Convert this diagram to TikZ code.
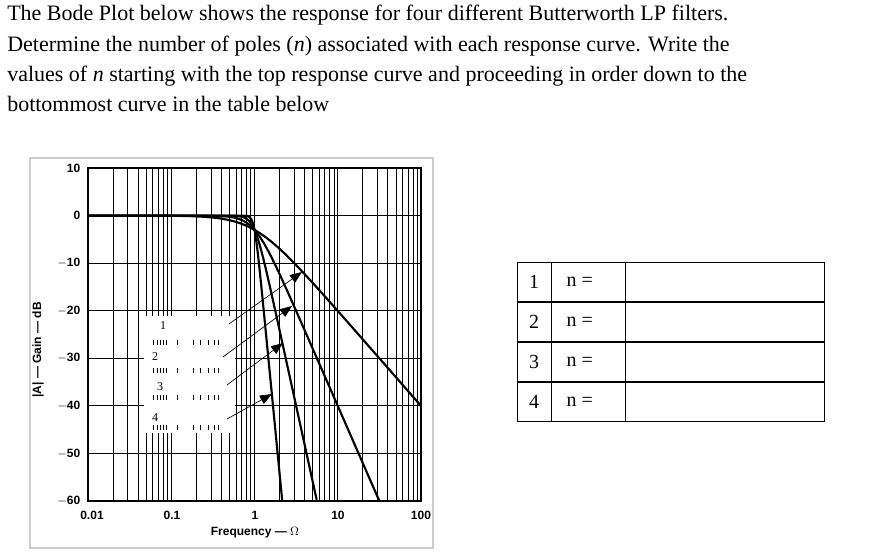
\documentclass[tikz,border=0pt]{standalone}
\usepackage{fontspec}
\setmainfont{Liberation Serif}
\setsansfont{Liberation Sans}
\usetikzlibrary{arrows.meta}
\begin{document}
\begin{tikzpicture}[x=0.75pt,y=-0.75pt,
  grid/.style={black,line width=0.6pt},
  curve/.style={black,line width=1.6pt,line join=round},
  tick/.style={font=\sffamily\bfseries\fontsize{9}{10}\selectfont},
  lead/.style={black,line width=0.5pt,-{Triangle[length=9pt,width=7pt]}},
  lbl/.style={font=\fontsize{9}{10}\selectfont}]
\useasboundingbox (0,0) rectangle (894,556);
\fill[white] (0,0) rectangle (894,556);
% header text
\node[anchor=north west,align=left,inner sep=0pt,font=\fontsize{16.5}{22.8}\selectfont] (hdr) at (7,5)
{The Bode Plot below shows the response for four different Butterworth LP filters.\\
Determine the number of poles (\textit{n}) associated with each response curve. Write the\\
values of \textit{n} starting with the top response curve and proceeding in order down to the\\
bottommost curve in the table below};
% outer frame
\draw[gray!40,line width=1pt] (30,158) rectangle (433,548);
% grid
\foreach \d in {0,1,2,3}{
  \foreach \m in {1,...,9}{
    \draw[grid] ({88+83.25*(\d+log10(\m))},168) -- ({88+83.25*(\d+log10(\m))},501);
  }}
\foreach \g in {0,-10,...,-50}{
  \draw[grid] (88,{168+4.757*(10-\g)}) -- (421,{168+4.757*(10-\g)});
}
\draw[black,line width=1pt] (88,168) rectangle (421,501);
% white label area
\fill[white] (144,316) rectangle (235,433);
\foreach \yy in {345,373,400,430}{
  \foreach \xx in {153,157,160,163,166,177,193,200,208,214,218}{
    \draw[black,line width=0.6pt] (\xx,\yy-5) -- (\xx,\yy);
  }}
% curves
\foreach \n/\u in {1/2,2/1.5,4/0.75,9/0.333}{
  \draw[curve] plot[domain=-2:\u,samples=220,smooth]
    ({88+83.25*(\x+2)},{168+4.757*(10+10*(max(2*\n*\x,0)+log10(1+exp(-2.302585*abs(2*\n*\x))))))});
}
% labels and arrows
\node[lbl] (l1) at (163,326) {1};
\node[lbl] (l2) at (155,357) {2};
\node[lbl] (l3) at (160,387) {3};
\node[lbl] (l4) at (155,418) {4};
\coordinate (a1) at (229,324); \coordinate (b1) at (302,272);
\coordinate (a2) at (223,357); \coordinate (b2) at (292,306);
\coordinate (a3) at (227,385); \coordinate (b3) at (283,343);
\coordinate (a4) at (227,419); \coordinate (b4) at (272,394);
\foreach \i in {1,...,4}{\draw[lead] (a\i) -- (b\i);}
% tick labels
\foreach \g/\s in {10/10,0/0,-10/$-$10,-20/$-$20,-30/$-$30,-40/$-$40,-50/$-$50,-60/$-$60}{
  \node[tick,anchor=east] at (85,{168+4.757*(10-\g)}) {\s};
}
\node[tick] at (92,515) {0.01};
\node[tick] at (172,515) {0.1};
\node[tick] at (255,515) {1};
\node[tick] at (338,515) {10};
\node[tick] at (421,515) {100};
\node[tick] (xl) at (255,533) {Frequency — $\Omega$};
\node[tick,rotate=90] (yl) at (38,350) {|A| — Gain — dB};
% table
\foreach \r/\t in {0/1,1/2,2/3,3/4}{
  \draw[line width=0.6pt] (517,{262+40*\r}) rectangle (551,{301+40*\r});
  \draw[line width=0.6pt] (551,{262+40*\r}) rectangle (625,{301+40*\r});
  \draw[line width=0.6pt] (625,{262+40*\r}) rectangle (824,{301+40*\r});
  \node[font=\fontsize{15}{17}\selectfont] at (534,{281.5+40*\r}) {\t};
  \node[font=\fontsize{15}{17}\selectfont,anchor=west] at (562,{281.5+40*\r}) {n =};
}
\end{tikzpicture}
\end{document}
